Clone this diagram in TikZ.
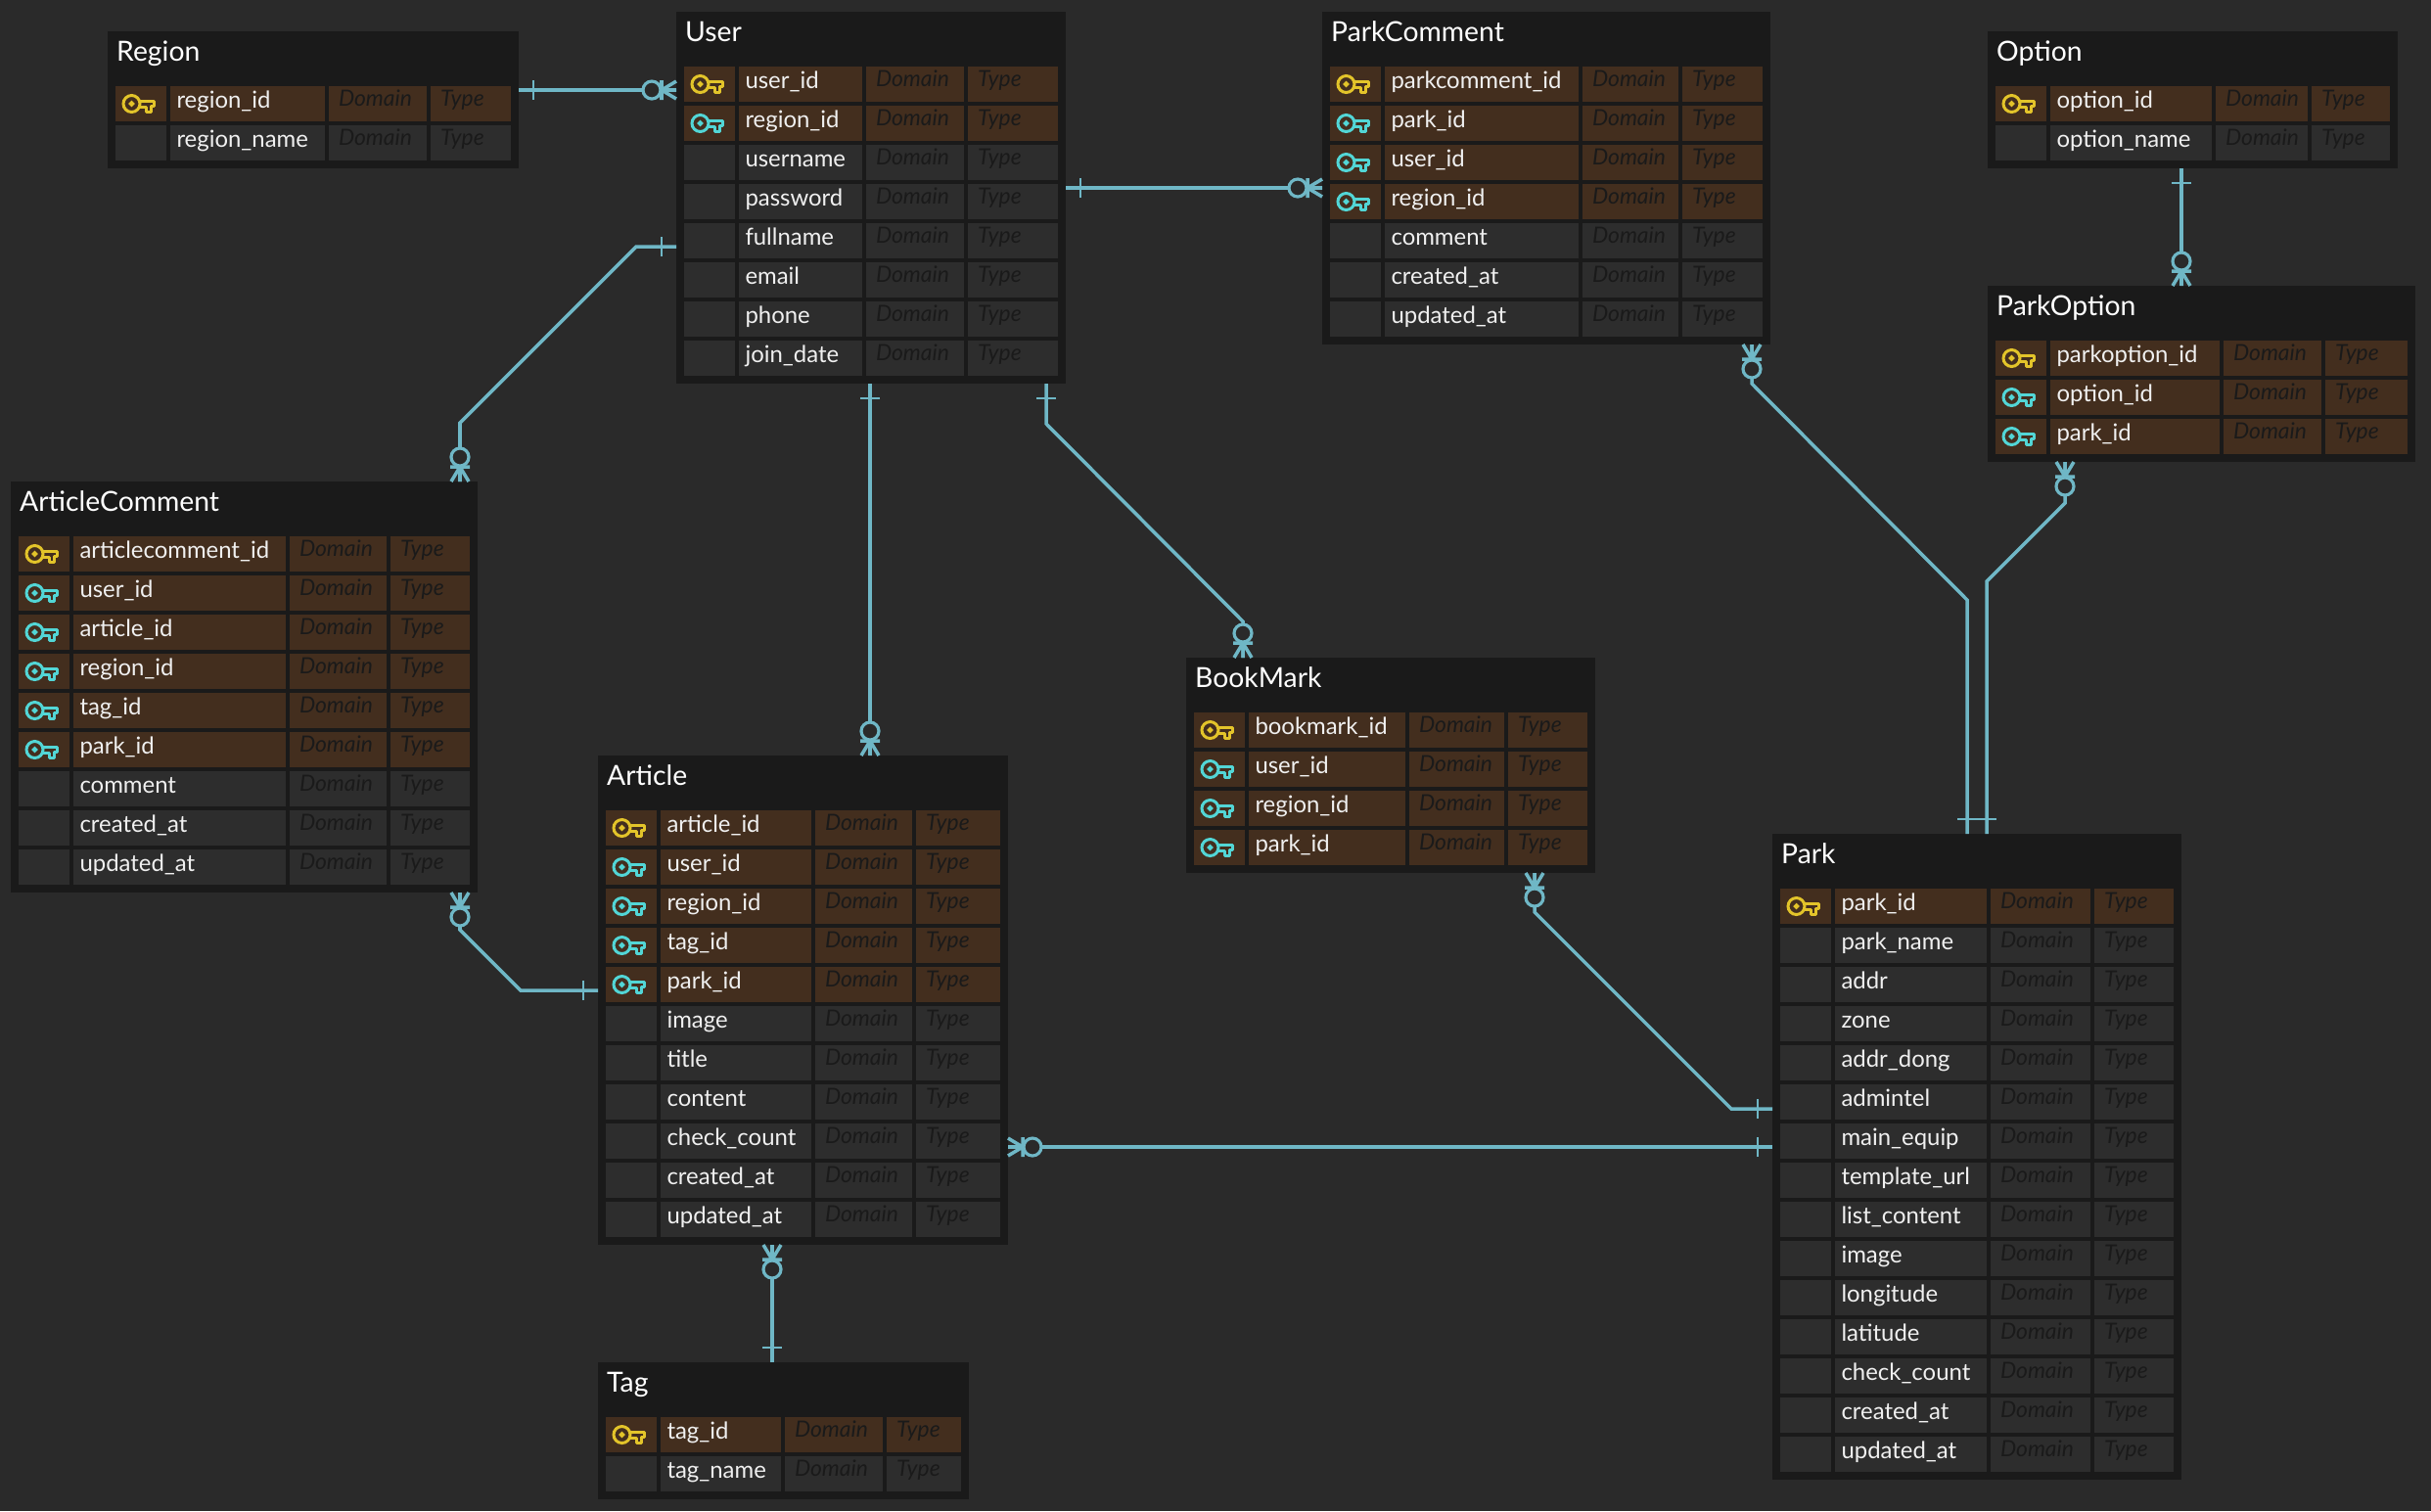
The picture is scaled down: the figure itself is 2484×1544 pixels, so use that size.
\documentclass[tikz,border=0pt]{standalone}
\usepackage{fontspec}
\setmainfont{Lato}
\usetikzlibrary{positioning, calc}
\definecolor{canvasColor}{HTML}{2A2A2A}
\definecolor{tableColor}{HTML}{1A1A1A}
\definecolor{plainRowColor}{HTML}{2D2D2D}
\definecolor{keyRowColor}{HTML}{432E1E}
\definecolor{lineColor}{HTML}{6FB7C6}
\definecolor{pkColor}{HTML}{E3C42A}
\definecolor{fkColor}{HTML}{52D6D6}
\definecolor{nameColor}{HTML}{F0F0F0}
\definecolor{hintColor}{HTML}{1A1A1A}

% name, x, y, title, widths of name/domain/type cells, row count, rows
\newcommand{\ertable}[9]{
    \pgfmathsetmacro{\tablew}{64+#5+4+#6+4+#7+8}
    \pgfmathsetmacro{\tableh}{56+#8*40+4}
    \pgfmathsetmacro{\namew}{(#5-13)*0.01}
    \pgfmathsetmacro{\domw}{(#6-20)*0.01}
    \pgfmathsetmacro{\typew}{(#7-20)*0.01}
    \node[tablebody, minimum width=\tablew*0.01cm, minimum height=\tableh*0.01cm] (#1) at (#2,#3) {};
    \node[tabletitle] (#1-title) at (#2+8.5,#3+30) {#4};
    \foreach \kind/\field [count=\i] in {#9} {
        \pgfmathsetmacro{\rowy}{#3+56+(\i-1)*40}
        \node[iconcell, row\kind] (#1-\i-icon) at (#2+8,\rowy) {};
        \pic[icon\kind] at (#2+32.5,\rowy+18) {keyicon};
        \node[namecell, row\kind, text width=\namew cm] (#1-\i-name) at (#2+64,\rowy) {\field};
        \node[hintcell, row\kind, text width=\domw cm] (#1-\i-dom) at (#2+68+#5,\rowy) {Domain};
        \node[hintcell, row\kind, text width=\typew cm] (#1-\i-type) at (#2+72+#5+#6,\rowy) {Type};
    }
}

\begin{document}
\begin{tikzpicture}[
    x=0.01cm, y=-0.01cm,
    tablebody/.style={
        rectangle, fill=tableColor, anchor=north west, inner sep=0pt, outer sep=0pt
    },
    tabletitle/.style={
        anchor=base west, inner sep=0pt, text=white,
        font=\fontsize{8.05pt}{9pt}\selectfont
    },
    rowcell/.style={
        rectangle, anchor=north west, inner ysep=0pt, outer sep=0pt, align=left
    },
    iconcell/.style={rowcell, minimum width=0.52cm, minimum height=0.36cm, inner xsep=0pt},
    namecell/.style={
        rowcell, inner xsep=0.065cm, text height=0.22cm, text depth=0.14cm,
        text=nameColor, font=\fontsize{6.8pt}{8pt}\selectfont
    },
    hintcell/.style={
        rowcell, inner xsep=0.10cm, text height=0.205cm, text depth=0.155cm,
        text=hintColor, font=\fontsize{6.5pt}{8pt}\itshape\selectfont
    },
    rowp/.style={fill=keyRowColor},
    rowf/.style={fill=keyRowColor},
    rown/.style={fill=plainRowColor},
    iconp/.style={draw=pkColor},
    iconf/.style={draw=fkColor},
    iconn/.style={draw=none},
    keyicon/.pic={
        \draw[pic actions, line width=0.85pt] (-8,0) circle (8.5);
        \draw[pic actions, line width=0.6pt] (-8,0) circle (1.8);
        \draw[pic actions, line width=0.85pt, line join=round]
            (1,-3) -- (15,-3) -- (15,2) -- (12,2) -- (12,8) -- (7,8) -- (7,3) -- (0,3);
    },
    erline/.style={draw=lineColor, line width=1pt},
    onemark/.pic={
        \draw[lineColor, line width=0.8pt] (15,-10) -- (15,10);
    },
    zeromany/.pic={
        \draw[lineColor, line width=1pt] (0,-9) -- (15,0) -- (0,9) (0,0) -- (15,0) (15,-10) -- (15,10);
        \draw[lineColor, line width=0.9pt, fill=canvasColor] (25,0) circle (9);
    },
]
\fill[canvasColor] (0,0) rectangle (2484,1544);
\useasboundingbox (0,0) rectangle (2484,1544);

% === TABLES ===
\ertable{region}{110}{32}{Region}{158}{100}{82}{2}{p/region\_id, n/region\_name}
\ertable{user}{691}{12}{User}{126}{100}{92}{8}{p/user\_id, f/region\_id, n/username, n/password, n/fullname, n/email, n/phone, n/join\_date}
\ertable{parkcomment}{1351}{12}{ParkComment}{198}{98}{82}{7}{p/parkcomment\_id, f/park\_id, f/user\_id, f/region\_id, n/comment, n/created\_at, n/updated\_at}
\ertable{option}{2031}{32}{Option}{165}{94}{80}{2}{p/option\_id, n/option\_name}
\ertable{parkoption}{2031}{292}{ParkOption}{173}{100}{84}{3}{p/parkoption\_id, f/option\_id, f/park\_id}
\ertable{artcomment}{11}{492}{ArticleComment}{217}{99}{81}{9}{p/articlecomment\_id, f/user\_id, f/article\_id, f/region\_id, f/tag\_id, f/park\_id, n/comment, n/created\_at, n/updated\_at}
\ertable{article}{611}{772}{Article}{154}{99}{86}{11}{p/article\_id, f/user\_id, f/region\_id, f/tag\_id, f/park\_id, n/image, n/title, n/content, n/check\_count, n/created\_at, n/updated\_at}
\ertable{bookmark}{1212}{672}{BookMark}{160}{97}{81}{4}{p/bookmark\_id, f/user\_id, f/region\_id, f/park\_id}
\ertable{park}{1811}{852}{Park}{155}{102}{81}{15}{p/park\_id, n/park\_name, n/addr, n/zone, n/addr\_dong, n/admintel, n/main\_equip, n/template\_url, n/list\_content, n/image, n/longitude, n/latitude, n/check\_count, n/created\_at, n/updated\_at}
\ertable{tag}{611}{1392}{Tag}{123}{100}{76}{2}{p/tag\_id, n/tag\_name}

% === CONNECTORS ===
% region -> user
\draw[erline] ($(region.north east)+(0,60)$) coordinate (regionA) -- ($(user.north west)+(0,80)$) coordinate (userA);
\pic at (regionA) {onemark};
\pic[rotate=180] at (userA) {zeromany};

% user -> artcomment
\draw[erline] ($(user.north west)+(0,240)$) coordinate (userB) -- ++(-41,0) -- ++(-180,180)
    -- ($(artcomment.north west)+(459,0)$) coordinate (artcommentA);
\pic[rotate=180] at (userB) {onemark};
\pic[rotate=90] at (artcommentA) {zeromany};

% user -> article
\draw[erline] ($(user.south west)+(198,0)$) coordinate (userC) -- ($(article.north west)+(278,0)$) coordinate (articleA);
\pic[rotate=-90] at (userC) {onemark};
\pic[rotate=90] at (articleA) {zeromany};

% user -> bookmark
\draw[erline] ($(user.south west)+(378,0)$) coordinate (userD) -- ++(0,41) -- ++(201,202)
    -- ($(bookmark.north west)+(58,0)$) coordinate (bookmarkA);
\pic[rotate=-90] at (userD) {onemark};
\pic[rotate=90] at (bookmarkA) {zeromany};

% user -> parkcomment
\draw[erline] ($(user.north east)+(0,180)$) coordinate (userE) -- ($(parkcomment.north west)+(0,180)$) coordinate (parkcommentA);
\pic at (userE) {onemark};
\pic[rotate=180] at (parkcommentA) {zeromany};

% option -> parkoption
\draw[erline] ($(option.south west)+(198,0)$) coordinate (optionA) -- ($(parkoption.north west)+(198,0)$) coordinate (parkoptionA);
\pic[rotate=-90] at (optionA) {onemark};
\pic[rotate=90] at (parkoptionA) {zeromany};

% parkoption -> park
\draw[erline] ($(parkoption.south west)+(79,0)$) coordinate (parkoptionB) -- ++(0,42) -- ++(-80,80)
    -- ($(park.north west)+(219,0)$) coordinate (parkA);
\pic[rotate=-90] at (parkoptionB) {zeromany};
\pic[rotate=90] at (parkA) {onemark};

% parkcomment -> park
\draw[erline] ($(parkcomment.south west)+(439,0)$) coordinate (parkcommentB) -- ++(0,40) -- ++(220,221)
    -- ($(park.north west)+(199,0)$) coordinate (parkB);
\pic[rotate=-90] at (parkcommentB) {zeromany};
\pic[rotate=90] at (parkB) {onemark};

% bookmark -> park
\draw[erline] ($(bookmark.south west)+(356,0)$) coordinate (bookmarkB) -- ++(0,40) -- ++(201,201)
    -- ($(park.north west)+(0,281)$) coordinate (parkC);
\pic[rotate=-90] at (bookmarkB) {zeromany};
\pic[rotate=180] at (parkC) {onemark};

% article -> park
\draw[erline] ($(article.north east)+(0,400)$) coordinate (articleB) -- ($(park.north west)+(0,320)$) coordinate (parkD);
\pic at (articleB) {zeromany};
\pic[rotate=180] at (parkD) {onemark};

% article -> tag
\draw[erline] ($(article.south west)+(178,0)$) coordinate (articleC) -- ($(tag.north west)+(178,0)$) coordinate (tagA);
\pic[rotate=-90] at (articleC) {zeromany};
\pic[rotate=90] at (tagA) {onemark};

% artcomment -> article
\draw[erline] ($(artcomment.south west)+(459,0)$) coordinate (artcommentB) -- ++(0,38) -- ++(62,62)
    -- ($(article.north west)+(0,240)$) coordinate (articleD);
\pic[rotate=-90] at (artcommentB) {zeromany};
\pic[rotate=180] at (articleD) {onemark};
\end{tikzpicture}
\end{document}
